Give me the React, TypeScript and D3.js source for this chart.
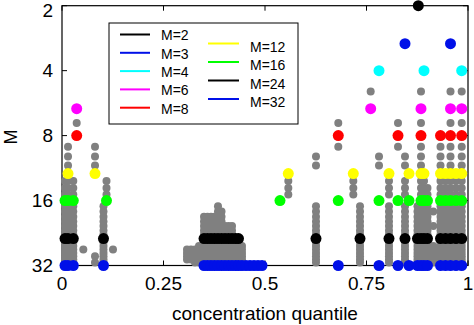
import React from "react";
import * as d3 from "d3";

// ---- data -------------------------------------------------------------
// quantile position of each column of points
const colQ = [
  0.0074, 0.0148, 0.0278, 0.0362, 0.0525, 0.0813, 0.1022, 0.1096, 0.1256,
  0.3079, 0.3177, 0.3276, 0.3374, 0.3498, 0.3584, 0.367, 0.3756, 0.3842,
  0.3929, 0.4015, 0.4101, 0.4187, 0.4273, 0.4347, 0.4433, 0.4532, 0.4631,
  0.4729, 0.4828, 0.4926, 0.5369, 0.5574, 0.6256, 0.6805, 0.7175, 0.734,
  0.7603, 0.7808, 0.8054, 0.8276, 0.8448, 0.8547, 0.8756, 0.8776, 0.8842,
  0.8916, 0.9002, 0.9145, 0.9323, 0.9446, 0.9569, 0.9704, 0.9845,
];
// M values (integers) present in each column: "a-b" ranges, comma separated
const colM = [
  "13-32", "9-32", "13-32", "6-8", "27", "9-12,29,31", "17-32", "13-16", "27",
  "27-30", "27-30", "27-31", "26-31", "19-32", "19-32", "19-32", "19-32", "17-32",
  "18-32", "21-32", "21-32", "21-32", "24-32", "24-32", "26-30,32", "32", "32",
  "32", "32", "32", "16", "12-15", "10-11,17-31", "7-9,16,32", "12-15", "17-31",
  "5-6", "4,10-11,16,32", "12-15,17-31", "7-9,16,32", "3,10-11,13-15,17-31", "12,16,32", "17-32", "2", "5-32",
  "4,12-32", "14-32", "18,21,26-31", "8-32", "12-32", "3,5-32", "12-32", "4-32",
];

const levelM = [2, 3, 4, 6, 8, 12, 16, 24, 32];
const levelColor = ["#000000", "#0010e8", "#00ffff", "#ff00ff", "#ff0000", "#ffff00", "#00ff00", "#000000", "#0010e8"];

const xTicks = [0, 0.25, 0.5, 0.75, 1];
const xTickLabels = ["0", "0.25", "0.5", "0.75", "1"];
const yTicks = [2, 4, 8, 16, 32];

const greyColor = "#808080";

function parseSpec(s: string): number[] {
  const out: number[] = [];
  s.split(",").forEach((part) => {
    const [a, b] = part.split("-").map(Number);
    if (b === undefined || isNaN(b)) out.push(a);
    else for (let m = a; m <= b; m++) out.push(m);
  });
  return out;
}

export default function App() {
  const W = 474, H = 325;
  const x = d3.scaleLinear().domain([0, 1]).range([62, 468]);
  const y = d3.scaleLog().base(2).domain([2, 32]).range([5.7, 265.5]);

  const pts: { q: number; m: number }[] = [];
  colQ.forEach((q, i) => parseSpec(colM[i]).forEach((m) => pts.push({ q, m })));
  const grey = pts.filter((p) => levelM.indexOf(p.m) < 0);
  const colored = pts.filter((p) => levelM.indexOf(p.m) >= 0);

  const font = "'Liberation Sans', Arial, sans-serif";
  const [x0, x1] = x.range();
  const [yTop, yBot] = y.range();

  const legendCol1 = [0, 1, 2, 3, 4];
  const legendCol2 = [5, 6, 7, 8];

  return (
    <svg width={W} height={H} style={{ position: "absolute", left: 0, top: 0, background: "#fff" }} fontFamily={font}>
      <rect x={0} y={0} width={W} height={H} fill="#fff" />
      {/* frame */}
      <rect x={x0} y={yTop} width={x1 - x0} height={yBot - yTop} fill="none" stroke="#000" strokeWidth={1.2} />
      {/* ticks */}
      {xTicks.map((t, i) => (
        <g key={"xt" + i}>
          <line x1={x(t)} x2={x(t)} y1={yBot} y2={yBot - 5} stroke="#000" />
          <line x1={x(t)} x2={x(t)} y1={yTop} y2={yTop + 5} stroke="#000" />
          <text x={x(t)} y={290} fontSize={19} textAnchor="middle" fill="#000">{xTickLabels[i]}</text>
        </g>
      ))}
      {yTicks.map((t, i) => (
        <g key={"yt" + i}>
          <line x1={x0} x2={x0 + 5} y1={y(t)} y2={y(t)} stroke="#000" />
          <line x1={x1} x2={x1 - 5} y1={y(t)} y2={y(t)} stroke="#000" />
          <text x={53} y={Math.max(y(t), 10)} dy="0.35em" fontSize={19} textAnchor="end" fill="#000">{t}</text>
        </g>
      ))}
      {/* axis labels */}
      <text x={(x0 + x1) / 2} y={320} fontSize={19} textAnchor="middle" fill="#000">concentration quantile</text>
      <text transform={`translate(17,137) rotate(-90)`} fontSize={18} textAnchor="middle" fill="#000">M</text>

      {/* points */}
      {grey.map((p, i) => (
        <circle key={"g" + i} cx={x(p.q)} cy={y(p.m)} r={4} fill={greyColor} />
      ))}
      {colored.map((p, i) => (
        <circle key={"c" + i} cx={x(p.q)} cy={y(p.m)} r={5.5} fill={levelColor[levelM.indexOf(p.m)]} />
      ))}

      {/* legend */}
      <rect x={109} y={23} width={189} height={101} fill="#fff" stroke="#000" strokeWidth={1} />
      {legendCol1.map((k, i) => (
        <g key={"l1" + k}>
          <line x1={120} x2={150} y1={34.5 + i * 18.3} y2={34.5 + i * 18.3} stroke={levelColor[k]} strokeWidth={2} />
          <text x={161} y={35.5 + i * 18.3} dy="0.35em" fontSize={14} fill="#000">{"M=" + levelM[k]}</text>
        </g>
      ))}
      {legendCol2.map((k, i) => (
        <g key={"l2" + k}>
          <line x1={208} x2={239} y1={43.5 + i * 18.5} y2={43.5 + i * 18.5} stroke={levelColor[k]} strokeWidth={2} />
          <text x={250} y={47 + i * 18.5} dy="0.35em" fontSize={14} fill="#000">{"M=" + levelM[k]}</text>
        </g>
      ))}
    </svg>
  );
}
